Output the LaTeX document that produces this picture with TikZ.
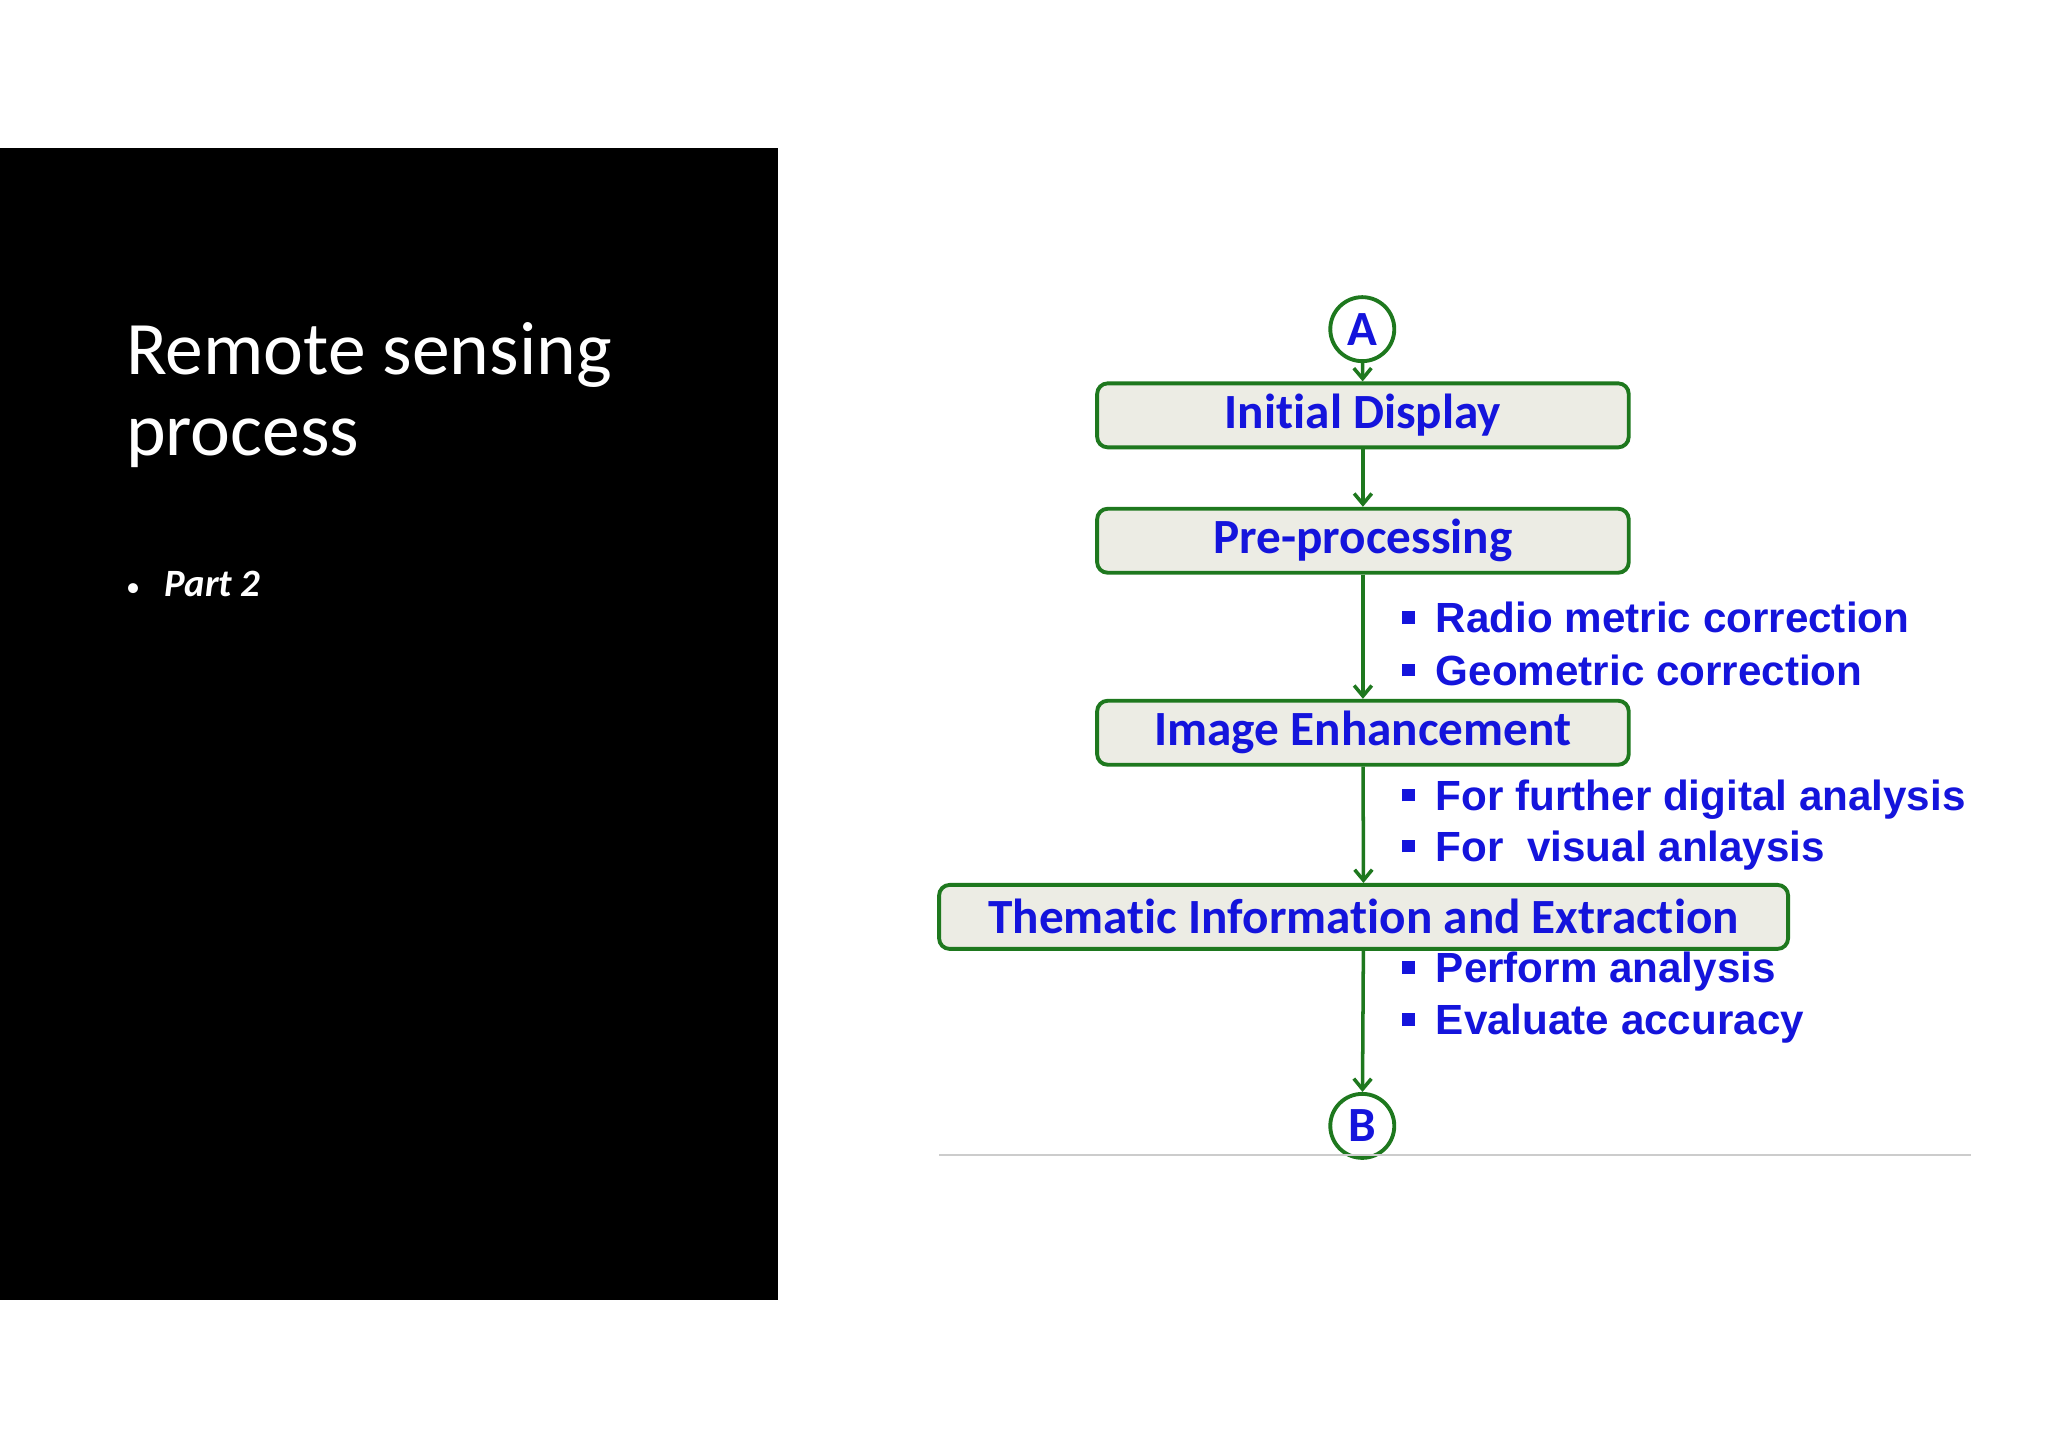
\documentclass[tikz,border=0pt]{standalone}
\usetikzlibrary{arrows.meta}
\usepackage{fontspec}
\setmainfont{Carlito}[Ligatures={NoCommon}]
\newfontfamily\arialf{Liberation Sans}
\definecolor{gr}{RGB}{30,120,30}
\definecolor{bl}{RGB}{20,20,220}
\definecolor{bx}{RGB}{236,236,228}
\newcommand{\sqb}{\raisebox{2.5pt}{\rule{3.6pt}{3.6pt}}\hspace{6pt}}
\begin{document}
\begin{tikzpicture}[x=0.01306cm,y=-0.01306cm,
  box/.style={draw=gr,fill=bx,line width=1.1pt,rounded corners=3pt,inner sep=0pt,font=\fontsize{14}{17}\selectfont\bfseries,text=bl},
  circ/.style={circle,draw=gr,line width=1.1pt,fill=white,minimum size=49*0.01306cm,inner sep=0pt,font=\fontsize{14}{17}\selectfont\bfseries,text=bl},
  arr/.style={draw=gr,line width=1pt,-{Straight Barb[length=3pt,width=5pt]}},
  bul/.style={anchor=west,text=bl,font=\arialf\fontsize{12}{14}\selectfont\bfseries,inner sep=0pt}]
\useasboundingbox (0,0) rectangle (1568,1108.6);
\fill[white] (0,0) rectangle (1568,1108.6);
\fill[black] (0,113) rectangle (596,995);
\node[anchor=north west,text=white,font=\fontsize{21.5}{23.3}\selectfont,align=left,inner sep=0pt] (title) at (96,246) {Remote sensing\\process};
\node[anchor=west,text=white,font=\fontsize{11}{13}\selectfont,inner sep=0pt] (part) at (96,447) {{\fontsize{8}{10}\selectfont\textbullet}\hspace{7pt}\textbf{\textit{Part 2}}};
\node[circ] (A) at (1043,252) {A};
\node[box,minimum width=407*0.01306cm,minimum height=49*0.01306cm] (d1) at (1043.5,318) {\raisebox{-1.5pt}{Initial Display}};
\node[box,minimum width=407*0.01306cm,minimum height=49*0.01306cm] (d2) at (1043.5,414) {\raisebox{-1.5pt}{Pre-processing}};
\node[box,minimum width=407*0.01306cm,minimum height=49*0.01306cm] (d3) at (1043.5,561) {\raisebox{-1.5pt}{Image Enhancement}};
\node[box,minimum width=650*0.01306cm,minimum height=49*0.01306cm] (d4) at (1044,702) {\raisebox{-1.5pt}{Thematic Information and Extraction}};
\node[circ] (B) at (1043,862) {B};
\draw[arr] (A) -- (d1);
\draw[arr] (d1) -- (d2);
\draw[arr] (d2) -- (d3);
\draw[arr] (d3) -- (d4);
\draw[arr] (d4) -- (B);
\node[bul] (b1) at (1073,473) {\sqb Radio metric correction};
\node[bul] (b2) at (1073,513) {\sqb Geometric correction};
\node[bul] (b3) at (1073,612) {\sqb For further digital analysis};
\node[bul] (b4) at (1073,651) {\sqb For\ \ visual anlaysis};
\node[bul] (b5) at (1073,744) {\sqb Perform analysis};
\node[bul] (b6) at (1073,784) {\sqb Evaluate accuracy};
\draw[black!20,line width=0.6pt] (719,884) -- (1509,884);
\end{tikzpicture}
\end{document}
